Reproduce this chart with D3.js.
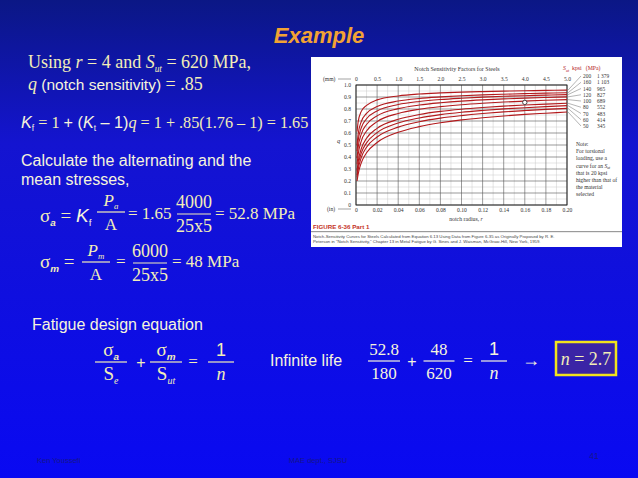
<!DOCTYPE html>
<html>
<head>
<meta charset="utf-8">
<script src="https://cdn.jsdelivr.net/npm/d3@7"></script>
<style>
  html, body { margin: 0; padding: 0; background: #1414e0; }
  svg { display: block; }
</style>
</head>
<body>
<div id="slide"></div>
<script>
// notch radius (in) where the curves were read
const radiusIn = [0.001, 0.002, 0.005, 0.01, 0.02, 0.04, 0.06, 0.08, 0.10, 0.12, 0.14, 0.16, 0.18, 0.20];
// q, top (200 kpsi) to bottom (50 kpsi)
const q200 = [0.61, 0.69, 0.78, 0.83, 0.876, 0.909, 0.925, 0.934, 0.941, 0.945, 0.949, 0.952, 0.955, 0.957];
const q160 = [0.50, 0.59, 0.695, 0.763, 0.82, 0.866, 0.888, 0.901, 0.911, 0.918, 0.923, 0.928, 0.932, 0.935];
const q140 = [0.45, 0.534, 0.644, 0.719, 0.784, 0.837, 0.863, 0.879, 0.89, 0.899, 0.906, 0.911, 0.916, 0.92];
const q120 = [0.39, 0.477, 0.591, 0.671, 0.743, 0.803, 0.833, 0.852, 0.866, 0.876, 0.884, 0.891, 0.896, 0.901];
const q100 = [0.34, 0.419, 0.533, 0.617, 0.695, 0.763, 0.798, 0.82, 0.836, 0.848, 0.858, 0.866, 0.873, 0.878];
const q80  = [0.28, 0.358, 0.469, 0.556, 0.639, 0.714, 0.754, 0.78, 0.798, 0.812, 0.824, 0.833, 0.841, 0.848];
const q70  = [0.25, 0.325, 0.432, 0.518, 0.603, 0.683, 0.725, 0.753, 0.773, 0.788, 0.801, 0.811, 0.82, 0.828];
const q60  = [0.23, 0.293, 0.396, 0.481, 0.567, 0.649, 0.694, 0.724, 0.745, 0.762, 0.776, 0.787, 0.797, 0.805];
const q50  = [0.20, 0.256, 0.352, 0.435, 0.521, 0.606, 0.653, 0.685, 0.709, 0.727, 0.742, 0.755, 0.765, 0.775];
const curves = [q200, q160, q140, q120, q100, q80, q70, q60, q50];
const sutKpsi = ['200', '160', '140', '120', '100', '80', '70', '60', '50'];
const sutMpa = ['1 379', '1 103', '965', '827', '689', '552', '483', '414', '345'];

const mmTicks = [0, 0.5, 1.0, 1.5, 2.0, 2.5, 3.0, 3.5, 4.0, 4.5, 5.0];
const inTicks = [0, 0.02, 0.04, 0.06, 0.08, 0.10, 0.12, 0.14, 0.16, 0.18, 0.20];
const qTicks = [0, 0.1, 0.2, 0.3, 0.4, 0.5, 0.6, 0.7, 0.8, 0.9, 1.0];
// the worked point: r = 4 mm, q = .85
const pointMm = 4.0, pointQ = 0.855;

const noteLines = ['Note:', 'For torsional', 'loading, use a', 'curve for an S_ut', 'that is 20 kpsi',
  'higher than that of', 'the material', 'selected'];

const W = 638, H = 478;
const serif = '"Liberation Serif", "Times New Roman", serif';
const sans = '"Liberation Sans", Arial, sans-serif';
const pale = '#f3eeb8';
const whiteish = '#f6f4dc';

const svg = d3.select('#slide').append('svg')
  .attr('width', W).attr('height', H);

// slide background
const bg = svg.append('defs').append('linearGradient')
  .attr('id', 'bg').attr('x1', 0).attr('x2', 0).attr('y1', 0).attr('y2', 1);
bg.append('stop').attr('offset', '0%').attr('stop-color', '#0b1785');
bg.append('stop').attr('offset', '30%').attr('stop-color', '#1414d0');
bg.append('stop').attr('offset', '100%').attr('stop-color', '#0909f2');
svg.append('rect').attr('width', W).attr('height', H).attr('fill', 'url(#bg)');

// text with italic / subscript pieces
function rich(x, y, parts, o) {
  const t = svg.append('text').attr('x', x).attr('y', y)
    .attr('font-family', o.font || serif)
    .attr('font-size', o.size)
    .attr('fill', o.color || pale)
    .attr('text-anchor', o.anchor || 'start');
  let shift = 0;
  parts.forEach(p => {
    if (typeof p === 'string') p = { t: p };
    const s = t.append('tspan').text(p.t);
    if (p.i) s.attr('font-style', 'italic');
    if (p.b) s.attr('font-weight', 'bold');
    if (p.f) s.attr('font-family', p.f);
    if (p.c) s.attr('fill', p.c);
    if (p.sz) s.attr('font-size', p.sz);
    let want = 0;
    if (p.sub) { s.attr('font-size', p.sz || o.size * 0.52); want = o.size * 0.2; }
    if (want !== shift) { s.attr('dy', want - shift); shift = want; }
  });
  return t;
}

function fraction(cx, yLine, num, den, w, o) {
  rich(cx, yLine - 6, num, Object.assign({ anchor: 'middle' }, o));
  rich(cx, yLine + 18, den, Object.assign({ anchor: 'middle' }, o));
  svg.append('line').attr('x1', cx - w / 2).attr('x2', cx + w / 2)
    .attr('y1', yLine).attr('y2', yLine)
    .attr('stroke', o.color || pale).attr('stroke-width', 1.2);
}

// title
svg.append('text').attr('x', 319).attr('y', 43).attr('text-anchor', 'middle')
  .attr('font-family', sans).attr('font-size', 22).attr('font-weight', 'bold')
  .attr('font-style', 'italic').attr('fill', '#f2a234').text('Example');

rich(28, 68, ['Using ', { t: 'r', i: true }, ' = 4 and ', { t: 'S', i: true }, { t: 'ut', i: true, sub: true },
  ' = 620 MPa,'], { size: 18 });
rich(28, 90, [{ t: 'q', i: true }, { t: ' (notch sensitivity)', f: sans, c: whiteish, sz: 15.5 }, ' = .85'], { size: 18 });
rich(21, 128, [{ t: 'K', i: true, f: sans, c: whiteish }, { t: 'f', f: sans, c: whiteish, sub: true },
  ' = 1 ', { t: '+ (', f: sans, c: whiteish }, { t: 'K', i: true, f: sans, c: whiteish },
  { t: 't', f: sans, c: whiteish, sub: true }, { t: ' – 1)', f: sans, c: whiteish }, { t: 'q', i: true },
  ' = 1 + .85(1.76 – 1) = 1.65'], { size: 16.2 });

svg.append('text').attr('x', 21).attr('y', 166).attr('font-family', sans).attr('font-size', 16)
  .attr('fill', whiteish).text('Calculate the alternating and the');
svg.append('text').attr('x', 21).attr('y', 185).attr('font-family', sans).attr('font-size', 16)
  .attr('fill', whiteish).text('mean stresses,');

// sigma_a line
rich(40, 222, ['σ', { t: 'a', i: true, b: true, f: sans, sub: true }, ' = ',
  { t: 'K', i: true, f: sans, c: whiteish }, { t: 'f', f: sans, c: whiteish, sub: true }], { size: 19 });
fraction(111, 212, [{ t: 'P', i: true }, { t: 'a', i: true, sub: true }], ['A'], 28, { size: 17 });
rich(128, 219, ['= 1.65'], { size: 17 });
fraction(194, 214, ['4000'], ['25x5'], 34, { size: 18 });
rich(215, 219, ['= 52.8  MPa'], { size: 17 });

// sigma_m line
rich(40, 268, ['σ', { t: 'm', i: true, b: true, f: sans, sub: true }, ' ='], { size: 19 });
fraction(96, 262, [{ t: 'P', i: true }, { t: 'm', i: true, sub: true }], ['A'], 28, { size: 17 });
rich(116, 267, ['='], { size: 17 });
fraction(150, 263, ['6000'], ['25x5'], 34, { size: 18 });
rich(172, 267, ['= 48  MPa'], { size: 17 });

svg.append('text').attr('x', 32).attr('y', 330).attr('font-family', sans).attr('font-size', 16)
  .attr('fill', whiteish).text('Fatigue design equation');

// fatigue design equation
fraction(111, 362, ['σ', { t: 'a', i: true, b: true, f: sans, sub: true }], ['S', { t: 'e', i: true, sub: true }], 32, { size: 19 });
rich(141, 368, ['+'], { size: 16, font: sans, anchor: 'middle' });
fraction(166, 362, ['σ', { t: 'm', i: true, b: true, f: sans, sub: true }], ['S', { t: 'ut', i: true, sub: true }], 32, { size: 19 });
rich(193, 367, ['='], { size: 17, anchor: 'middle' });
fraction(221, 362, [{ t: '1', f: sans }], [{ t: 'n', i: true }], 26, { size: 18 });

svg.append('text').attr('x', 270).attr('y', 366).attr('font-family', sans).attr('font-size', 16)
  .attr('fill', whiteish).text('Infinite life');

fraction(384, 361, ['52.8'], ['180'], 32, { size: 17, color: whiteish });
rich(412, 367, ['+'], { size: 16, font: sans, color: whiteish, anchor: 'middle' });
fraction(439, 361, ['48'], ['620'], 31, { size: 17, color: whiteish });
rich(468, 366, ['='], { size: 17, color: whiteish, anchor: 'middle' });
fraction(494, 361, [{ t: '1', f: sans }], [{ t: 'n', i: true }], 26, { size: 18, color: whiteish });
rich(531, 366, ['→'], { size: 18, color: whiteish, anchor: 'middle' });

svg.append('rect').attr('x', 556).attr('y', 342).attr('width', 60).attr('height', 33)
  .attr('fill', '#3a24a6').attr('stroke', '#f2e31c').attr('stroke-width', 2.5);
rich(586, 365, [{ t: 'n', i: true }, ' = 2.7'], { size: 18, anchor: 'middle' });

// footer
const foot = '#16168c';
svg.append('text').attr('x', 37).attr('y', 463).attr('font-family', sans).attr('font-size', 7.5)
  .attr('fill', foot).text('Ken Youssefi');
svg.append('text').attr('x', 318).attr('y', 463).attr('font-family', sans).attr('font-size', 7.5)
  .attr('text-anchor', 'middle').attr('fill', foot).text('MAE dept., SJSU');
svg.append('text').attr('x', 594).attr('y', 459).attr('font-family', sans).attr('font-size', 8.5)
  .attr('text-anchor', 'middle').attr('fill', foot).text('41');

// ---------- embedded figure ----------
const fig = svg.append('g');
fig.append('rect').attr('x', 311).attr('y', 57).attr('width', 311).attr('height', 190).attr('fill', '#ffffff');

const x = d3.scaleLinear().domain([0, 0.20]).range([356, 567]);
const xmm = d3.scaleLinear().domain([0, 5]).range([356, 567]);
const y = d3.scaleLinear().domain([0, 1]).range([205, 85]);

// minor grid
fig.append('g').selectAll('line.mv').data(d3.range(0.01, 0.2, 0.02)).join('line')
  .attr('x1', d => x(d)).attr('x2', d => x(d)).attr('y1', y(0)).attr('y2', y(1))
  .attr('stroke', '#c9c9c9').attr('stroke-width', 0.5);
fig.append('g').selectAll('line.mh').data(d3.range(0.05, 1, 0.1)).join('line')
  .attr('x1', x(0)).attr('x2', x(0.2)).attr('y1', d => y(d)).attr('y2', d => y(d))
  .attr('stroke', '#c9c9c9').attr('stroke-width', 0.5);
// major grid
fig.append('g').selectAll('line').data(inTicks).join('line')
  .attr('x1', d => x(d)).attr('x2', d => x(d)).attr('y1', y(0)).attr('y2', y(1))
  .attr('stroke', '#555').attr('stroke-width', 0.6);
fig.append('g').selectAll('line').data(qTicks).join('line')
  .attr('x1', x(0)).attr('x2', x(0.2)).attr('y1', d => y(d)).attr('y2', d => y(d))
  .attr('stroke', '#555').attr('stroke-width', 0.6);
fig.append('rect').attr('x', x(0)).attr('y', y(1)).attr('width', x(0.2) - x(0)).attr('height', y(0) - y(1))
  .attr('fill', 'none').attr('stroke', '#222').attr('stroke-width', 0.9);

// axes: labels only
function styleAxis(g) {
  g.select('.domain').remove();
  g.selectAll('.tick line').remove();
  g.selectAll('.tick text').attr('font-family', serif).attr('font-size', 5.6).attr('fill', '#333');
}
fig.append('g').attr('transform', `translate(0,${y(1) - 4})`)
  .call(d3.axisTop(xmm).tickValues(mmTicks).tickSize(0).tickPadding(0).tickFormat(d3.format('.1f')))
  .call(styleAxis)
  .call(g => g.selectAll('.tick').filter(d => d === 0).select('text').text('0'));
fig.append('g').attr('transform', `translate(0,${y(0) + 3})`)
  .call(d3.axisBottom(x).tickValues(inTicks).tickSize(0).tickPadding(0).tickFormat(d3.format('.2f')))
  .call(styleAxis)
  .call(g => g.selectAll('.tick').filter(d => d === 0).select('text').text('0'));
fig.append('g').attr('transform', `translate(${x(0) - 5},0)`)
  .call(d3.axisLeft(y).tickValues(qTicks).tickSize(0).tickPadding(0).tickFormat(d3.format('.1f')))
  .call(styleAxis)
  .call(g => g.selectAll('.tick').filter(d => d === 0).select('text').text('0'));

const small = (xx, yy, s, o = {}) => fig.append('text').attr('x', xx).attr('y', yy)
  .attr('font-family', o.font || serif).attr('font-size', o.size || 5.6)
  .attr('fill', o.color || '#333').attr('text-anchor', o.anchor || 'start')
  .attr('font-style', o.italic ? 'italic' : null).attr('font-weight', o.bold ? 'bold' : null).text(s);

small(323, 81, '(mm)');
fig.append('line').attr('x1', 338).attr('x2', 351).attr('y1', 79).attr('y2', 79).attr('stroke', '#444').attr('stroke-width', 0.5);
small(327, 211, '(in)');
fig.append('line').attr('x1', 338).attr('x2', 351).attr('y1', 209).attr('y2', 209).attr('stroke', '#444').attr('stroke-width', 0.5);
small(457, 71, 'Notch Sensitivity Factors for Steels', { anchor: 'middle', size: 6 });
small(466, 221, 'notch radius, ', { anchor: 'middle', size: 5.8 }).append('tspan').attr('font-style', 'italic').text('r');
small(337, 143, 'q', { italic: true, size: 6.5 });

// curves
const line = d3.line().x((d, i) => x(radiusIn[i])).y(d => y(d)).curve(d3.curveMonotoneX);
fig.append('g').selectAll('path').data(curves).join('path')
  .attr('d', line).attr('fill', 'none').attr('stroke', '#b3191c').attr('stroke-width', 1.1);

fig.append('circle').attr('cx', xmm(pointMm)).attr('cy', y(pointQ)).attr('r', 2.2)
  .attr('fill', '#fff').attr('stroke', '#222').attr('stroke-width', 0.8);

// legend
const rowY = d3.scalePoint().domain(sutKpsi).range([78, 128]);
const legendHead = fig.append('text').attr('x', 563).attr('y', 70)
  .attr('font-family', serif).attr('font-size', 5.8).attr('fill', '#b3191c');
legendHead.append('tspan').attr('font-style', 'italic').text('S');
legendHead.append('tspan').attr('font-size', 4).attr('dy', 1.5).attr('font-style', 'italic').text('ut');
legendHead.append('tspan').attr('dy', -1.5).attr('dx', 3).text('kpsi');
legendHead.append('tspan').attr('dx', 4).text('(MPa)');
fig.append('g').selectAll('text').data(sutKpsi).join('text')
  .attr('x', 583).attr('y', d => rowY(d)).attr('font-family', serif).attr('font-size', 5.4).attr('fill', '#333').text(d => d);
fig.append('g').selectAll('text').data(sutMpa).join('text')
  .attr('x', 597).attr('y', (d, i) => rowY(sutKpsi[i])).attr('font-family', serif).attr('font-size', 5.4).attr('fill', '#333').text(d => d);
fig.append('g').selectAll('line').data(curves).join('line')
  .attr('x1', x(0.2) + 1).attr('y1', d => y(d[d.length - 1]))
  .attr('x2', 581).attr('y2', (d, i) => rowY(sutKpsi[i]) - 2)
  .attr('stroke', '#444').attr('stroke-width', 0.4);

noteLines.forEach((s, i) => {
  const t = fig.append('text').attr('x', 576).attr('y', 146 + i * 7.2)
    .attr('font-family', serif).attr('font-size', 5.6).attr('fill', '#333');
  if (s.includes('S_ut')) {
    t.append('tspan').text(s.replace(' S_ut', ' '));
    t.append('tspan').attr('font-style', 'italic').text('S');
    t.append('tspan').attr('font-size', 3.8).attr('dy', 1.4).attr('font-style', 'italic').text('ut');
  } else t.text(s);
});

// caption
small(313, 229, 'FIGURE 6-36   Part 1', { font: sans, size: 6.2, bold: true, color: '#c4331f' });
fig.append('rect').attr('x', 311).attr('y', 231).attr('width', 311).attr('height', 1.2).attr('fill', '#9a9a9a');
small(313, 237.5, 'Notch-Sensitivity Curves for Steels Calculated from Equation 6.13 Using Data from Figure 6-35 as Originally Proposed by R. E.', { font: sans, size: 4.3, color: '#444' });
small(313, 242.5, 'Peterson in "Notch Sensitivity," Chapter 13 in Metal Fatigue by G. Sines and J. Waisman, McGraw-Hill, New York, 1959.', { font: sans, size: 4.3, color: '#444' });
</script>
</body>
</html>
